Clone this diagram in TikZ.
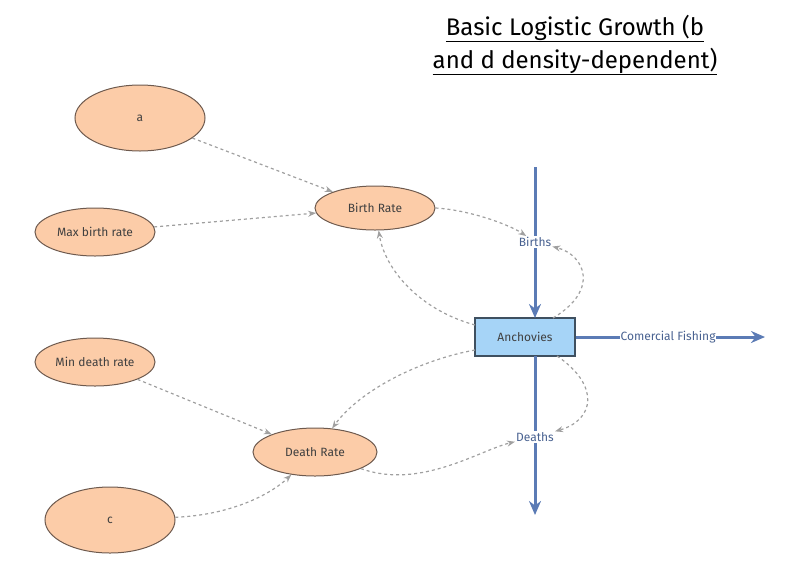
\documentclass[tikz,border=0pt]{standalone}
\usepackage{fontspec}
\setmainfont{Fira Sans}
\usetikzlibrary{shapes.geometric,arrows.meta}
\definecolor{fillo}{HTML}{FCCCA8}
\definecolor{bord}{HTML}{6E5A4E}
\definecolor{flowc}{HTML}{5B7BB5}
\definecolor{stockf}{HTML}{A6D4F7}
\definecolor{stockb}{HTML}{3F5060}
\definecolor{dashc}{HTML}{A0A0A0}
\begin{document}
\begin{tikzpicture}[x=1pt,y=-1pt,
 aux/.style={ellipse,draw=bord,fill=fillo,line width=1pt,font=\fontsize{12}{13}\selectfont,text=black!75,inner sep=0pt},
 link/.style={color=dashc,dashed,line width=1.2pt,-{Stealth[length=8pt,width=6pt]}},
 flow/.style={flowc,line width=3pt,-{Stealth[length=14pt,width=12pt]}},
 flab/.style={font=\fontsize{12}{13}\selectfont,text=flowc!80!black,fill=white,inner sep=1pt}]
\useasboundingbox (0,0) rectangle (800,568);
\node[align=center,font=\fontsize{24}{33}\selectfont] (t) at (575,45) {\underline{Basic Logistic Growth (b}\\\underline{and d density-dependent)}};
\node[aux,minimum width=130pt,minimum height=66pt] (a) at (140,118) {a};
\node[aux,minimum width=120pt,minimum height=48pt] (mb) at (95,232) {Max birth rate};
\node[aux,minimum width=120pt,minimum height=44pt] (br) at (375,208) {Birth Rate};
\node[aux,minimum width=120pt,minimum height=48pt] (md) at (95,362) {Min death rate};
\node[aux,minimum width=124pt,minimum height=48pt] (dr) at (315,452) {Death Rate};
\node[aux,minimum width=130pt,minimum height=66pt] (c) at (110,520) {c};
\node[draw=stockb,fill=stockf,line width=1.5pt,minimum width=100pt,minimum height=38pt,font=\fontsize{12}{13}\selectfont,text=black!75] (an) at (525,337) {Anchovies};
\coordinate (bt) at (535,167);
\coordinate (db) at (535,515);
\coordinate (fe) at (765,337);
\draw[flow] (bt) -- (535,318);
\draw[flow] (535,356) -- (db);
\draw[flow] (an.east) -- (fe);
\node[flab] (births) at (535,242) {Births};
\node[flab] (deaths) at (535,437) {Deaths};
\node[flab] (cf) at (668,337) {Comercial Fishing};
\draw[link] (a) -- (br);
\draw[link] (mb) -- (br);
\draw[link] (br.east) .. controls (470,210) and (510,225) .. (births);
\draw[link] (553,318) .. controls (600,290) and (585,255) .. (births);
\draw[link] (475,325) .. controls (420,310) and (385,270) .. (br);
\draw[link] (475,350) .. controls (420,360) and (360,390) .. (dr);
\draw[link] (md) -- (dr);
\draw[link] (c) .. controls (230,515) and (270,495) .. (dr);
\draw[link] (dr) .. controls (420,490) and (480,450) .. (deaths);
\draw[link] (557,356) .. controls (600,385) and (595,420) .. (deaths);
\end{tikzpicture}
\end{document}
